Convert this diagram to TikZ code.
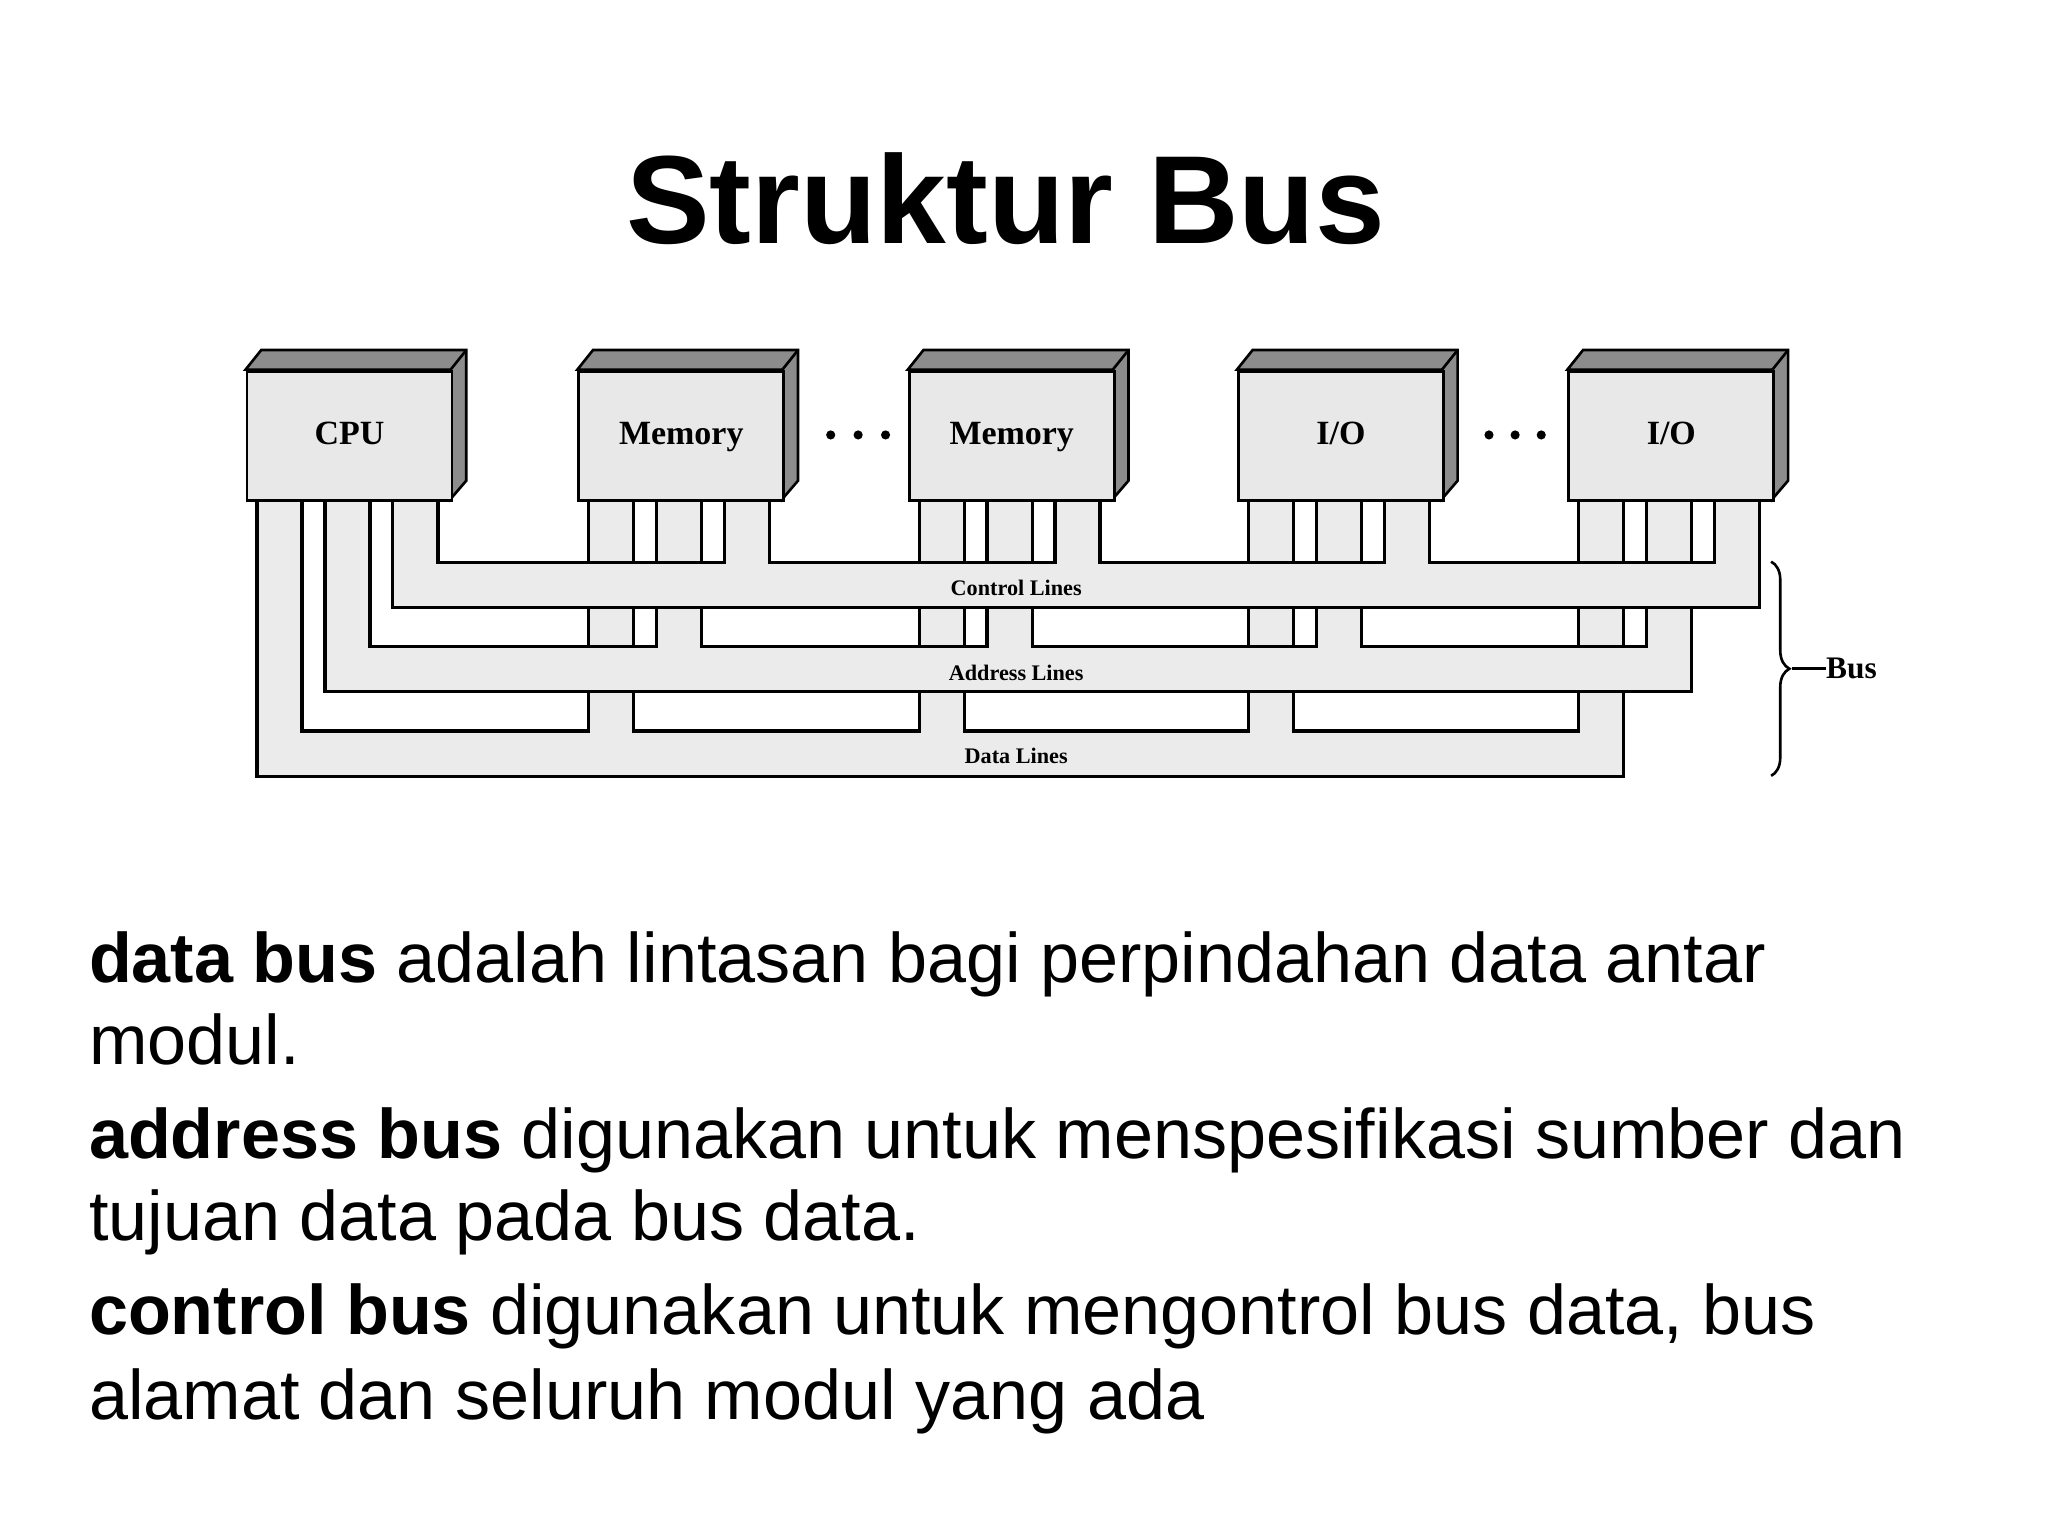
\documentclass[tikz,border=0pt]{standalone}
\usepackage{fontspec}
\setmainfont{Liberation Sans}
\newfontfamily\serifb{Liberation Serif}
\usetikzlibrary{decorations.pathreplacing}
\definecolor{bandgray}{gray}{0.92}
\definecolor{facegray}{gray}{0.91}
\definecolor{slabgray}{gray}{0.55}
\begin{document}
\begin{tikzpicture}[x=1pt,y=-1pt,
  busblack/.style={line width=37pt,line cap=rect,draw=black},
  busgray/.style={line width=32pt,line cap=rect,draw=bandgray},
  module/.style={draw=black,line width=2.2pt,fill=facegray,minimum width=157pt,minimum height=99pt,anchor=north west,inner sep=0pt,text height=18pt,text depth=5pt,font=\serifb\bfseries\fontsize{26}{26}\selectfont},
  buslabel/.style={font=\serifb\bfseries\fontsize{17}{17}\selectfont,inner sep=0pt},
  body/.style={anchor=base west,inner sep=0pt,font=\fontsize{53.7}{53.7}\selectfont}]
\useasboundingbox (0,0) rectangle (1568,1176);
\node[font=\bfseries\fontsize{96}{96}\selectfont,inner sep=0pt] (title) at (770,152) {Struktur Bus};
\foreach \off/\yy in {26/577,78/512,130/448}{
  \foreach \pass in {busblack,busgray}{
    \draw[\pass] (188+\off,\yy) -- (1200+\off,\yy);
    \foreach \mx in {188,442,695,947,1200}{
      \draw[\pass] (\mx+\off,395) -- (\mx+\off,\yy);
    }
  }
}
\node[buslabel] (cl) at (778,450) {Control Lines};
\node[buslabel] (al) at (778,515) {Address Lines};
\node[buslabel] (dl) at (778,579) {Data Lines};
\foreach \mx/\nm/\lab in {188/cpu/{CPU},442/mema/{Memory},695/memb/{Memory},947/ioa/{I/O},1200/iob/{I/O}}{
  \fill[slabgray,draw=black,line width=2pt] (\mx,283) -- (\mx+12,268) -- (\mx+169,268) -- (\mx+169,368) -- (\mx+157,382) -- (\mx+157,283) -- cycle;
  \draw[line width=2pt] (\mx+157,283) -- (\mx+169,268);
  \node[module] (\nm) at (\mx,283) {\lab};
}
\foreach \cx in {636,657,678,1140,1160,1180}{
  \fill (\cx,333) circle (3.5pt);
}
\draw[line width=2pt,decorate,decoration={brace,amplitude=14pt}] (1356,430) -- (1356,594);
\node[font=\serifb\bfseries\fontsize{24}{24}\selectfont,anchor=west,inner sep=0pt] (bus) at (1398,512) {Bus};
\coordinate (btip) at (1372,512);
\draw[line width=2pt] (btip) -- (bus.west);
\node[body] (l1) at (68,752) {\textbf{data bus} adalah lintasan bagi perpindahan data antar};
\node[body] (l2) at (68,815) {modul.};
\node[body] (l3) at (68,887) {\textbf{address bus} digunakan untuk menspesifikasi sumber dan};
\node[body] (l4) at (68,950) {tujuan data pada bus data.};
\node[body] (l5) at (68,1022) {\textbf{control bus} digunakan untuk mengontrol bus data, bus};
\node[body] (l6) at (68,1087) {alamat dan seluruh modul yang ada};
\end{tikzpicture}
\end{document}
